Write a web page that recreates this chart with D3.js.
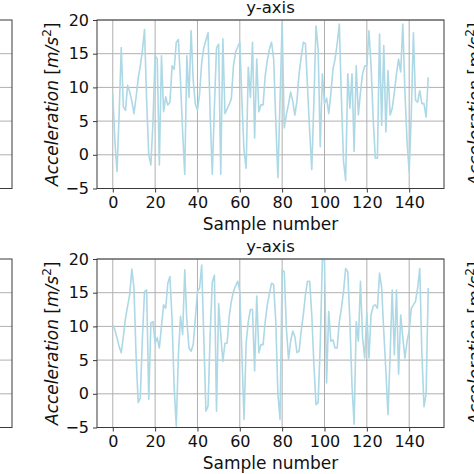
<!DOCTYPE html>
<html>
<head>
<meta charset="utf-8">
<script src="https://cdn.jsdelivr.net/npm/d3@7"></script>
<style>
  body { margin: 0; background: #fff; }
  text { font-family: "DejaVu Sans", sans-serif; fill: #111; }
</style>
</head>
<body>
<svg width="474" height="474"></svg>
<script>
// sample values
const topY = [9, 2, -2.5, 6, 15.9, 7.1, 6.6, 10.3, 9.3, 8, 6.1, 8.5, 11.3, 13.2, 15.5, 18.6, 8, 0, -1.5, 5,
  14.7, 14.2, -1.5, 14.7, 6.4, 8.6, 7.4, 7.8, 13.2, 12.7, 16.7, 17.1, 10.8, 3.4, -2.9, 14.7, 8.5, 18.4, 11, 7.5,
  6.6, 9, 13.7, 15.9, 17, 18.1, 6, -2.9, 7, 15.9, 16.4, -2.9, 17.2, 6.1, 6.8, 7.5, 8.3, 13.2, 15.2, 16,
  16.7, 8, 0.5, -2.0, 13, 8.5, 16.7, 2.5, 14.2, 6.4, 7.4, 7.4, 11.7, 14, 15.7, 16.7, 14.2, 5, -3.4, 8,
  19.6, 4, 6, 7.5, 9.3, 8, 5.9, 8, 12, 14.5, 16.7, 16.5, 10, 3.5, -2.2, 8, 19.1, 15.7, 1.2, 12,
  7.6, 8.4, 6.1, 9, 12.7, 14.2, 16.5, 19.4, 8.3, -1, -3.8, 12, 6.9, 12, 0.5, 13.2, 5.9, 9.3, 12, 13.2,
  13.2, 18.4, 13.2, 5.4, -0.5, -0.5, 17.9, 4.4, 16.2, 3.4, 12.5, 5.9, 6.9, 9.3, 12, 14.2, 12.3, 19.4, 9.3, 2,
  -2.5, 6, 18.1, 8.1, 7.8, 9.5, 7.6, 7.6, 5.6, 11.5]

const bottomY = [10.2, 9.5, 8.3, 7, 6.1, 8.5, 11.2, 13, 14.7, 18.5, 15.7, 5.8, -1.3, -0.6, 8.3, 15.2, 15.4, -0.8, 10.5, 10.7,
  7.5, 8.3, 6.8, 10, 13.2, 12.7, 16.4, 17.4, 11, 0.9, -4.8, 5.8, 11.5, 8.8, 18.4, 10.8, 6.8, 6.3, 7.3, 11.2,
  15.2, 15.7, 19.1, 8.3, -2.6, -1.8, 8.8, 16.6, 17.6, -2.6, 13.4, 8.8, 4.8, 7.5, 7.5, 11.5, 13.7, 15.2, 16, 16.7,
  15.2, 5.8, -3.8, 7.5, 10.7, 12.5, 12.5, 3.4, 14.5, 6.1, 7.3, 7.3, 10.7, 13.2, 14.9, 16.4, 16.2, 10.7, -0.1, -3.8,
  18.4, 18.1, 9.8, 5.1, 7.8, 9.3, 8.5, 6.1, 6.3, 9.3, 11.7, 14.7, 16.7, 16.7, 11.7, 4.3, -1.6, -1.3, 7.3, 19.9,
  19.9, 1.6, 12.2, 7.8, 8, 6.8, 6.8, 10.7, 12.7, 15.2, 18.6, 18.1, 10.7, 1.1, -4.5, 10.7, 7.8, 16.7, 8.3, 5.3,
  12, 5.3, 11.7, 13, 13.2, 12.7, 17.9, 15.7, 9.3, 3.4, -3.1, 5.8, 15.4, 5.8, 15.4, 2.9, 11.7, 8.3, 5.3, 7.8,
  9.3, 12.7, 13.2, 13.7, 15.7, 18.6, 6, -1.9, 0, 15.7]

const xTicks = [0, 20, 40, 60, 80, 100, 120, 140]
const yTicks = [-5, 0, 5, 10, 15, 20]
const title = 'y-axis'
const xLabel = 'Sample number'

const svg = d3.select('svg')
const translate = (x, y) => `translate(${x}, ${y})`
const frameColor = '#3a3a3a'
const gridColor = '#b0b0b0'

const plotLeft = 97, plotWidth = 347, plotHeight = 168.5

const x = d3.scaleLinear().domain([-7.45, 156.45]).range([0, plotWidth])
const y = d3.scaleLinear().domain([-5, 20]).range([plotHeight, 0])

const line = d3.line()
  .x((d, i) => x(i))
  .y(d => y(d))

function drawPanel(values, top) {
  const g = svg.append('g').attr('transform', translate(plotLeft, top))

  // neighbour panel on the left, only its right edge is on screen
  const left = svg.append('g').attr('transform', translate(12 - plotWidth, top))
  left.selectAll('line.grid').data(yTicks.slice(1, -1)).enter().append('line')
    .attr('x1', 0).attr('x2', plotWidth)
    .attr('y1', d => y(d)).attr('y2', d => y(d))
    .attr('stroke', gridColor).attr('stroke-width', 1)
  left.append('rect')
    .attr('width', plotWidth).attr('height', plotHeight)
    .attr('fill', 'none').attr('stroke', frameColor).attr('stroke-width', 1)

  // grid
  g.append('g').selectAll('line').data(xTicks).enter().append('line')
    .attr('x1', d => x(d)).attr('x2', d => x(d))
    .attr('y1', 0).attr('y2', plotHeight)
    .attr('stroke', gridColor).attr('stroke-width', 1)
  g.append('g').selectAll('line').data(yTicks).enter().append('line')
    .attr('x1', 0).attr('x2', plotWidth)
    .attr('y1', d => y(d)).attr('y2', d => y(d))
    .attr('stroke', gridColor).attr('stroke-width', 1)

  g.append('path').datum(values)
    .attr('d', line)
    .attr('fill', 'none')
    .attr('stroke', '#add8e6')
    .attr('stroke-width', 1.6)
    .attr('stroke-linejoin', 'round')

  const xAxis = d3.axisBottom(x).tickValues(xTicks).tickSize(4).tickPadding(4)
  const yAxis = d3.axisLeft(y).tickValues(yTicks).tickSize(4).tickPadding(4)
    .tickFormat(d => d < 0 ? '\u2212' + Math.abs(d) : d)

  const xa = g.append('g').attr('transform', translate(0, plotHeight)).call(xAxis)
  const ya = g.append('g').call(yAxis)
  for (const a of [xa, ya]) {
    a.select('.domain').remove()
    a.selectAll('line').attr('stroke', frameColor)
    a.selectAll('text').style('font-size', '16px').style('font-family', '"DejaVu Sans", sans-serif').attr('fill', '#111')
  }

  g.append('rect')
    .attr('width', plotWidth).attr('height', plotHeight)
    .attr('fill', 'none').attr('stroke', frameColor).attr('stroke-width', 1)

  g.append('text')
    .attr('x', plotWidth / 2).attr('y', -7)
    .attr('text-anchor', 'middle')
    .style('font-size', '16.5px')
    .text(title)

  g.append('text')
    .attr('x', plotWidth / 2).attr('y', plotHeight + 41)
    .attr('text-anchor', 'middle')
    .style('font-size', '17px')
    .text(xLabel)

  const yl = g.append('text')
    .attr('transform', translate(-39, plotHeight / 2) + ' rotate(-90)')
    .attr('text-anchor', 'middle')
    .style('font-size', '17px')
  yl.append('tspan').style('font-style', 'italic').text('Acceleration ')
  yl.append('tspan').text('[')
  yl.append('tspan').style('font-style', 'italic').text('m/s')
  yl.append('tspan').attr('dy', -7).style('font-size', '12px').text('2')
  yl.append('tspan').attr('dy', 7).text(']')

  // y label of the neighbour panel on the right
  const yr = svg.append('text')
    .attr('transform', translate(481, top + plotHeight / 2) + ' rotate(-90)')
    .attr('text-anchor', 'middle')
    .style('font-size', '17px')
  yr.append('tspan').style('font-style', 'italic').text('Acceleration ')
  yr.append('tspan').text('[')
  yr.append('tspan').style('font-style', 'italic').text('m/s')
  yr.append('tspan').attr('dy', -7).style('font-size', '12px').text('2')
  yr.append('tspan').attr('dy', 7).text(']')
}

drawPanel(topY, 20)
drawPanel(bottomY, 259)
</script>
</body>
</html>
